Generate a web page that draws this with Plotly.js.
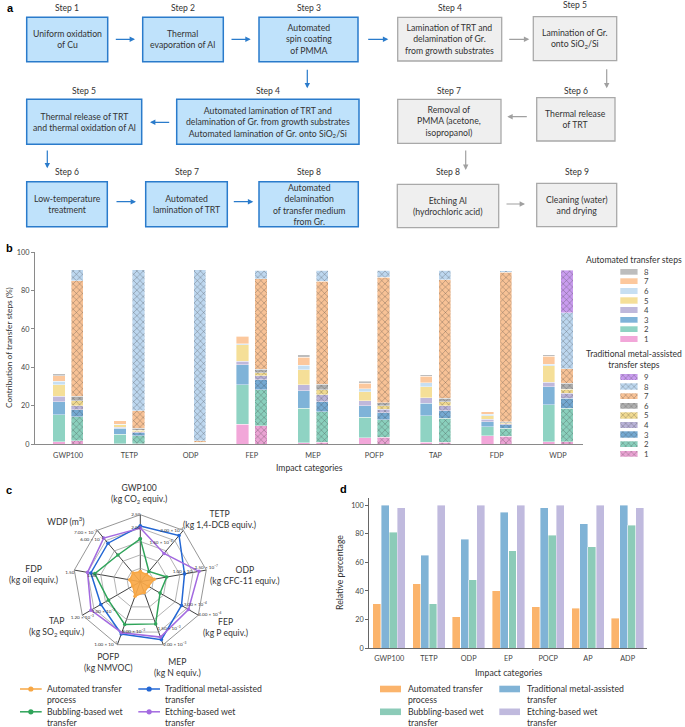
<!DOCTYPE html>
<html><head><meta charset="utf-8">
<script src="https://cdn.plot.ly/plotly-3.0.1.min.js"></script>
<style>html,body{margin:0;padding:0;background:#fff}#chart{width:685px;height:727px}</style>
</head><body><div id="chart"></div>
<script>
// ---------- Panel b data ----------
const categoriesB=['GWP100','TETP','ODP','FEP','MEP','POFP','TAP','FDP','WDP'];
const autoSteps=['1','2','3','4','5','6','7','8'];
const tradSteps=['1','2','3','4','5','6','7','8','9'];
const auto1=[1.5,0.3,0.05,10.5,0.8,3.5,1.0,4.4,1.5];
const auto2=[13.8,5.0,0.3,20.4,18.0,10.6,13.8,4.8,19.0];
const auto3=[6.9,3.1,0.2,10.4,9.0,5.9,6.6,2.6,9.5];
const auto4=[2.7,0.5,0.05,1.8,3.1,2.6,2.9,1.3,2.3];
const auto5=[6.0,1.2,0.1,8.7,7.9,4.8,5.7,1.9,8.7];
const auto6=[1.8,0.5,0.05,0.5,2.3,1.4,2.1,0.8,0.7];
const auto7=[3.1,1.6,0.1,3.8,4.3,3.0,3.2,1.1,4.0];
const auto8=[0.9,0.2,0.05,0.3,1.1,0.9,0.8,0.2,0.9];
const trad1=[2.0,0.3,0.1,9.6,1.0,3.7,1.0,4.2,1.5];
const trad2=[12.4,4.1,0.3,18.7,16.0,9.0,12.6,4.2,17.3];
const trad3=[3.5,1.7,0.2,5.2,5.2,3.8,3.8,1.7,5.2];
const trad4=[2.3,0.5,0.1,2.1,3.5,1.8,2.6,0.6,2.6];
const trad5=[2.4,0.8,0.3,1.7,2.6,1.7,2.2,0.5,2.1];
const trad6=[2.3,1.0,0.2,1.8,3.0,1.7,1.8,0.6,3.1];
const trad7=[60.2,9.2,0.8,46.9,53.4,65.1,61.6,77.7,7.6];
const trad8=[5.7,73.2,88.8,4.5,5.8,3.7,4.9,0.8,29.0];
const trad9=[0,0,0,0,0,0,0,0,22.2];
const autoColors=['#f2a7d9','#8fd3c3','#7fb3d8','#bfb8db','#f5df98','#c7dff2','#fcc89d','#bdbdbd'];
const tradColors=['#eba3d4','#8ad0bd','#74a9d2','#b9b3d8','#f1da90','#b0b0b0','#f8c296','#bdd7ef','#c99cef'];

// ---------- Panel c data (normalised to each axis maximum) ----------
const categoriesC=['GWP100','TETP','ODP','FEP','MEP','POFP','TAP','FDP','WDP'];
const automatedC=[0.15,0.14,0.21,0.14,0.17,0.23,0.13,0.16,0.17];
const traditionalC=[0.83,0.90,0.67,0.71,0.92,0.83,0.68,0.75,0.75];
const bubblingC=[0.64,0.20,0.40,0.34,0.67,0.68,0.55,0.69,0.52];
const etchingC=[0.80,0.55,0.89,0.83,0.88,0.81,0.85,0.80,0.85];
const axisMax=[2.5,2.0e-4,1.5e-7,4.0e-4,2.0e-3,1.0e-2,1.2e-3,1.5,7.0e-3];
const axisTick=[2.0,1.5e-4,1.0e-7,3.0e-4,1.5e-3,8.0e-3,1.0e-3,1.0,6.0e-3];
const axisNames=['GWP100<br>(kg CO<sub>2</sub> equiv.)','TETP<br>(kg 1,4-DCB equiv.)','ODP<br>(kg CFC-11 equiv.)','FEP<br>(kg P equiv.)','MEP<br>(kg N equiv.)','POFP<br>(kg NMVOC)','TAP<br>(kg SO<sub>2</sub> equiv.)','FDP<br>(kg oil equiv.)','WDP (m<sup>3</sup>)'];

// ---------- Panel d data ----------
const categoriesD=['GWP100','TETP','ODP','EP','POCP','AP','ADP'];
const automatedD=[31,45,22,40,29,28,21];
const traditionalD=[100,65,76,95,98,87,100];
const bubblingD=[81,31,48,68,79,71,86];
const etchingD=[98,100,100,100,100,100,98];

const seriesNames=['Automated transfer<br>process','Traditional metal-assisted<br>transfer','Bubbling-based wet<br>transfer','Etching-based wet<br>transfer'];
const radarColors=['#f7a745','#2367d4','#2fa45a','#a36ae0'];
const dColors=['#fbb46c','#80b3d6','#8ccbb8','#c0bade'];

// ---------- helpers ----------
const W=685,H=727;
const px=x=>x/W, py=y=>1-y/H;
const FONT='Lato, "Liberation Sans", sans-serif';
const TXT='#333333';
const annotations=[], shapes=[], data=[];
function ann(x,y,text,o){annotations.push(Object.assign({xref:'paper',yref:'paper',x:px(x),y:py(y),text:text,showarrow:false,font:{family:FONT,size:8.3,color:TXT},xanchor:'center',yanchor:'middle'},o||{}));}
function arrow(x0,y0,x1,y1,color){annotations.push({xref:'paper',yref:'paper',x:px(x1),y:py(y1),ax:x0-x1,ay:y0-y1,text:'',showarrow:true,arrowhead:2,arrowsize:0.9,arrowwidth:1.2,arrowcolor:color,standoff:0,startstandoff:0});}

// ---------- Panel a ----------
const BLUE_FILL='#bfe2fb',BLUE_LINE='#2a7bcb',GRAY_FILL='#efefef',GRAY_LINE='#a9a9a9';
const boxes=[
 [26.7,107.7,17.3,61.7,'b','Uniform oxidation<br>of Cu','Step 1',8.3],
 [142.7,223.3,17.3,61.7,'b','Thermal<br>evaporation of Al','Step 2',8.3],
 [259,358,17.3,61.7,'b','Automated<br>spin coating<br>of PMMA','Step 3',8.3],
 [176.7,359,99.3,144.3,'b','Automated lamination of TRT and<br>delamination of Gr. from growth substrates<br>Automated lamination of Gr. onto SiO<sub>2</sub>/Si','Step 4',90.7],
 [26.7,141.7,99.3,144.3,'b','Thermal release of TRT<br>and thermal oxidation of Al','Step 5',90.7],
 [26.7,107.3,181.7,226.7,'b','Low-temperature<br>treatment','Step 6',172.3],
 [145.7,227.3,181.7,226.7,'b','Automated<br>lamination of TRT','Step 7',172.3],
 [259,358.3,181.7,226.7,'b','Automated<br>delamination<br>of transfer medium<br>from Gr.','Step 8',172.3],
 [397.7,501.7,17.3,61,'g','Lamination of TRT and<br>delamination of Gr.<br>from growth substrates','Step 4',7.8],
 [533.3,616.7,16.7,60.7,'g','Lamination of Gr.<br>onto SiO<sub>2</sub>/Si','Step 5',5],
 [536.7,615,97.7,141,'g','Thermal release<br>of TRT','Step 6',90.7],
 [397.7,501,99.3,143.3,'g','Removal of<br>PMMA (acetone,<br>isopropanol)','Step 7',90.7],
 [397.3,498.7,184.3,227.7,'g','Etching Al<br>(hydrochloric acid)','Step 8',172.3],
 [536.7,616.7,183.3,226.7,'g','Cleaning (water)<br>and drying','Step 9',172.3]
];
boxes.forEach(b=>{
  const blue=b[4]==='b';
  shapes.push({type:'rect',xref:'paper',yref:'paper',x0:px(b[0]),x1:px(b[1]),y0:py(b[3]),y1:py(b[2]),fillcolor:blue?BLUE_FILL:GRAY_FILL,line:{color:blue?BLUE_LINE:GRAY_LINE,width:blue?1.5:1.3},layer:'below'});
  ann((b[0]+b[1])/2,(b[2]+b[3])/2,b[5],{font:{family:FONT,size:8.7,color:TXT}});
  ann((b[0]+b[1])/2,b[7],b[6],{font:{family:FONT,size:8.6,color:TXT}});
});
[[114.3,39.3,135,39.3],[230,39.3,250.7,39.3],[307.3,68.3,307.3,88.3],[170.7,122.3,150,122.3],[47.3,149,47.3,168.3],[115,201.7,136,201.7],[232.3,201.7,253.3,201.7],[366.7,39.3,388.3,39.3]].forEach(a=>arrow(a[0],a[1],a[2],a[3],BLUE_LINE));
[[507.7,39.3,529.3,39.3],[606.7,67.7,606.7,88.3],[528.3,116.7,507.3,116.7],[465.7,149,465.7,170],[505,204,525,204]].forEach(a=>arrow(a[0],a[1],a[2],a[3],'#a0a0a0'));

// panel letters
[['a',5,8.5],['b',4,248.5],['c',4,490],['d',338,489]].forEach(l=>ann(l[1],l[2],'<b>'+l[0]+'</b>',{font:{family:'"Liberation Sans", Arial, sans-serif',size:11,color:'#000'},xanchor:'left'}));

// ---------- Panel b bars ----------
const autoSeries=[auto1,auto2,auto3,auto4,auto5,auto6,auto7,auto8];
const tradSeries=[trad1,trad2,trad3,trad4,trad5,trad6,trad7,trad8,trad9];
const PAT={shape:'x',fgcolor:'rgba(55,55,55,0.75)',size:4.5,solidity:0.16,fillmode:'replace'};
autoSeries.forEach((vals,k)=>data.push({type:'bar',x:categoriesB.map((_,i)=>i-0.15),y:vals,width:0.2,name:'Automated step '+autoSteps[k],marker:{color:autoColors[k],line:{color:'#ffffff',width:0.4}},xaxis:'x',yaxis:'y',showlegend:false,hoverinfo:'skip'}));
tradSeries.forEach((vals,k)=>data.push({type:'bar',x:categoriesB.map((_,i)=>i+0.15),y:vals,width:0.2,name:'Traditional step '+tradSteps[k],marker:{color:tradColors[k],line:{color:'#ffffff',width:0.4},pattern:Object.assign({bgcolor:tradColors[k]},PAT)},xaxis:'x',yaxis:'y',showlegend:false,hoverinfo:'skip'}));

// Panel b legend (drawn as a small hidden subplot, one swatch per step)
const autoLegY=autoSteps.map((s,i)=>271.7+9.6*(autoSteps.length-1-i));
const tradLegY=tradSteps.map((s,i)=>377+9.6*(tradSteps.length-1-i));
autoSteps.forEach((s,i)=>data.push({type:'bar',orientation:'h',y:[autoLegY[i]],x:[1],width:6.3,marker:{color:autoColors[i],line:{color:'#fff',width:0.3}},xaxis:'x3',yaxis:'y3',showlegend:false,hoverinfo:'skip'}));
tradSteps.forEach((s,i)=>data.push({type:'bar',orientation:'h',y:[tradLegY[i]],x:[1],width:6.3,marker:{color:tradColors[i],line:{color:'#fff',width:0.3},pattern:Object.assign({},PAT,{bgcolor:tradColors[i],size:4})},xaxis:'x3',yaxis:'y3',showlegend:false,hoverinfo:'skip'}));
autoSteps.forEach((s,i)=>ann(641.7,autoLegY[i],s,{xanchor:'left',font:{family:FONT,size:7.8,color:'#444'}}));
tradSteps.forEach((s,i)=>ann(641.7,tradLegY[i],s,{xanchor:'left',font:{family:FONT,size:7.8,color:'#444'}}));
ann(634,260,'Automated transfer steps',{font:{family:FONT,size:8.6,color:TXT}});
ann(634,360,'Traditional metal-assisted<br>transfer steps',{font:{family:FONT,size:8.6,color:TXT}});
ann(309,468.3,'Impact categories',{font:{family:FONT,size:8.6,color:TXT}});
ann(9,348,'Contribution of transfer steps (%)',{textangle:-90,font:{family:FONT,size:8.3,color:TXT}});

// ---------- Panel c radar ----------
const closeLoop=a=>a.concat([a[0]]);
[automatedC,traditionalC,bubblingC,etchingC].forEach((vals,k)=>{
  const t={type:'scatterpolar',subplot:'polar',r:closeLoop(vals),theta:closeLoop(categoriesC),mode:'lines+markers',line:{color:radarColors[k],width:1.5},marker:{color:radarColors[k],size:3.6},showlegend:false,hoverinfo:'skip'};
  if(k===0){t.fill='toself';t.fillcolor='rgba(248,168,72,0.92)';}
  data.push(t);
});
function fmtTick(v){
  if(v>=1) return v.toFixed(2);
  const e=Math.floor(Math.log10(v)+1e-9); const m=v/Math.pow(10,e);
  return m.toFixed(2)+' \u00d7 10<sup>\u2212'+(-e)+'</sup>';
}
const outerPos=['middle left','middle left','top center','middle right','middle right','middle left','bottom center','bottom left','bottom left'];
const innerPos=['middle left','middle left','top center','top right','middle right','middle right','bottom right','bottom left','bottom left'];
data.push({type:'scatterpolar',subplot:'polar',mode:'text',r:axisMax.map(()=>1).concat(axisTick.map((t,i)=>t/axisMax[i])),theta:categoriesC.concat(categoriesC),text:axisMax.map(fmtTick).concat(axisTick.map(fmtTick)),textposition:outerPos.concat(innerPos),textfont:{family:FONT,size:4.6,color:'#333'},cliponaxis:false,showlegend:false,hoverinfo:'skip'});
const nameXY=[[139,494],[219,519],[245,575],[225,627],[177,667],[108,662],[56,627],[33,574],[66,521]];
axisNames.forEach((n,i)=>ann(nameXY[i][0],nameXY[i][1],n,{font:{family:FONT,size:8.6,color:TXT}}));
// radar legend
const legC=[[20,41.7,45,689],[138.3,160,163.3,689],[20,41.7,45,711.8],[138.3,160,163.3,711.8]];
[0,1,2,3].forEach((k,i)=>{
  const L=legC[i];
  shapes.push({type:'line',xref:'paper',yref:'paper',x0:px(L[0]),x1:px(L[1]),y0:py(L[3]),y1:py(L[3]),line:{color:radarColors[k],width:1.5}});
  const cx=(L[0]+L[1])/2;
  shapes.push({type:'circle',xref:'paper',yref:'paper',x0:px(cx-2.6),x1:px(cx+2.6),y0:py(L[3]+2.6),y1:py(L[3]-2.6),fillcolor:radarColors[k],line:{color:radarColors[k],width:0}});
  ann(L[2],L[3]+5.1,seriesNames[k],{xanchor:'left',align:'left',font:{family:FONT,size:8.7,color:TXT}});
});

// ---------- Panel d ----------
const dOff=[-0.309,-0.103,0.103,0.309];
[automatedD,traditionalD,bubblingD,etchingD].forEach((vals,k)=>data.push({type:'bar',x:categoriesD.map((_,i)=>i+dOff[k]),y:vals,width:0.2,marker:{color:dColors[k],line:{color:'#ffffff',width:0.4}},xaxis:'x2',yaxis:'y2',showlegend:false,hoverinfo:'skip'}));
const legD=[[380,401,406,689],[499.3,520,525,689],[380,401,406,711.8],[499.3,520,525,711.8]];
[0,1,2,3].forEach((k,i)=>{
  const L=legD[i];
  shapes.push({type:'rect',xref:'paper',yref:'paper',x0:px(L[0]),x1:px(L[1]),y0:py(L[3]+3.3),y1:py(L[3]-3.3),fillcolor:dColors[k],line:{width:0}});
  ann(L[2],L[3]+5.1,seriesNames[k],{xanchor:'left',align:'left',font:{family:FONT,size:8.7,color:TXT}});
});
ann(508.7,672,'Impact categories',{font:{family:FONT,size:8.7,color:TXT}});
ann(339,573,'Relative percentage',{textangle:-90,font:{family:FONT,size:8.7,color:TXT}});

// ---------- layout ----------
const tickFont={family:FONT,size:7.3,color:'#444'};
const layout={
  width:W,height:H,margin:{l:0,r:0,t:0,b:0},paper_bgcolor:'#fff',plot_bgcolor:'#fff',
  barmode:'stack',showlegend:false,font:{family:FONT,color:TXT},
  xaxis:{domain:[px(35),px(583)],range:[-0.54,8.41],tickvals:categoriesB.map((_,i)=>i),ticktext:categoriesB,ticks:'',showline:true,linecolor:'#8a8a8a',linewidth:1,showgrid:false,zeroline:false,tickfont:tickFont,ticklabelstandoff:4,fixedrange:true},
  yaxis:{domain:[py(444.4),py(252)],range:[0,100],tickvals:[0,20,40,60,80,100],ticks:'outside',ticklen:3,tickcolor:'#8a8a8a',showline:true,linecolor:'#8a8a8a',linewidth:1,showgrid:false,zeroline:false,tickfont:tickFont,fixedrange:true},
  xaxis2:{domain:[px(369.3),px(646.7)],range:[-0.5,6.48],tickvals:categoriesD.map((_,i)=>i),ticktext:categoriesD,ticks:'',showline:true,linecolor:'#666',linewidth:1,showgrid:false,zeroline:false,tickfont:tickFont,ticklabelstandoff:3,anchor:'y2',fixedrange:true},
  yaxis2:{domain:[py(648.3),py(498.3)],range:[0,104.7],tickvals:[0,20,40,60,80,100],ticks:'outside',ticklen:3,tickcolor:'#666',showline:true,linecolor:'#666',linewidth:1,showgrid:false,zeroline:false,tickfont:tickFont,anchor:'x2',fixedrange:true},
  xaxis3:{domain:[px(620),px(637.7)],range:[0,1],visible:false,anchor:'y3',fixedrange:true},
  yaxis3:{domain:[py(462),py(265)],range:[462,265],visible:false,anchor:'x3',fixedrange:true},
  polar:{domain:{x:[px(140.3-67),px(140.3+67)],y:[py(581.7+67),py(581.7-67)]},bgcolor:'rgba(0,0,0,0)',gridshape:'linear',
    radialaxis:{range:[0,1],tickvals:[0.2,0.4,0.6,0.8,1.0],showticklabels:false,ticks:'',showline:false,gridcolor:'#a0a0a0',gridwidth:0.8},
    angularaxis:{rotation:90,direction:'clockwise',showticklabels:false,ticks:'',gridcolor:'#111',gridwidth:0.8,linecolor:'#8a8a8a',linewidth:0.9}},
  shapes:shapes,annotations:annotations
};
Plotly.newPlot('chart',data,layout,{staticPlot:true,displayModeBar:false});
</script></body></html>
